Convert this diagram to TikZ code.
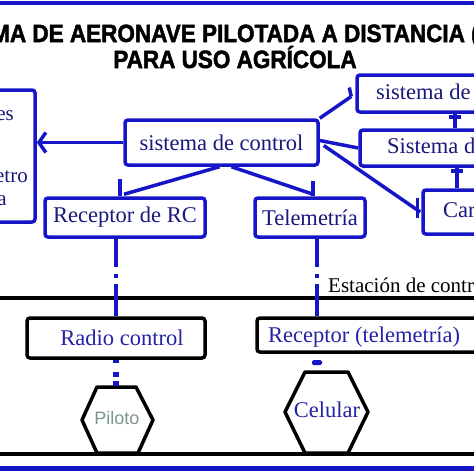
\documentclass[tikz,border=0pt]{standalone}
\usepackage{fontspec}
\usepackage{graphicx}
\setmainfont{Liberation Serif}
\newfontfamily\titlefont{Liberation Sans}
\newfontfamily\titleheavy{Liberation Sans Bold}[FakeBold=2]
\usetikzlibrary{arrows.meta,calc}
\definecolor{bbox}{RGB}{22,22,200}
\definecolor{btext}{RGB}{25,25,125}
\definecolor{rtext}{RGB}{35,35,165}
\definecolor{gtext}{RGB}{125,150,138}
\tikzset{
  bluebox/.style={draw=bbox, line width=3.5pt, rounded corners=3pt, inner sep=0pt, text=btext, font=\fontsize{22.5}{27}\selectfont},
  blackbox/.style={draw=black, line width=3.5pt, rounded corners=3pt, inner sep=0pt, text=rtext, font=\fontsize{22.5}{27}\selectfont},
  lbl/.style={inner sep=0pt, text=btext, font=\fontsize{22.5}{27}\selectfont},
  conn/.style={draw=bbox, line width=3.5pt},
  blk/.style={draw=black, line width=3.5pt},
  ttl/.style={inner sep=0pt, font=\titleheavy\fontsize{25}{30}\selectfont}
}
\begin{document}
\begin{tikzpicture}[x=1pt,y=-1pt]
\useasboundingbox (0,0) rectangle (474,474);
\clip (0,0) rectangle (474,474);
\fill[white] (0,0) rectangle (474,474);
% frame lines
\coordinate (tl) at (0,3); \coordinate (tr) at (474,3);
\draw[bbox, line width=4pt] (tl) -- (tr);
% title
\node[ttl, anchor=base west] (t1) at (-9,42) {\scalebox{0.9}[1]{MA DE AERONAVE PILOTADA A DISTANCIA (}};
\node[ttl, anchor=base] (t2) at (235,68) {\scalebox{0.9}[1]{PARA USO AGRÍCOLA}};
% upper boxes
\node[bluebox, minimum width=193pt, minimum height=45pt] (ctrl) at (221.5,142.5) {sistema de control};
\node[bluebox, minimum width=160pt, minimum height=39pt] (rc) at (125,217.5) {Receptor de RC};
\node[bluebox, minimum width=110pt, minimum height=39pt] (tel) at (310,217.5) {Telemetría};
\node[bluebox, minimum width=150pt, minimum height=37pt] (tr1) at (432,93.5) {};
\node[bluebox, minimum width=150pt, minimum height=36pt] (tr2) at (435,148) {};
\node[bluebox, minimum width=110pt, minimum height=44pt] (car) at (478,212) {};
\node[bluebox, minimum width=60pt, minimum height=132pt] (lft) at (5,156) {};
\node[lbl, anchor=base west] (tr1t) at (376,99) {sistema de};
\node[lbl, anchor=base west] (tr2t) at (387,153) {Sistema d};
\node[lbl, anchor=base west] (cart) at (443,217) {Car};
\node[lbl, anchor=base east, font=\fontsize{21}{25}\selectfont] (l1) at (14,120) {es};
\node[lbl, anchor=base east, font=\fontsize{21}{25}\selectfont] (l2) at (28,182) {etro};
\node[lbl, anchor=base east, font=\fontsize{21}{25}\selectfont] (l3) at (7,205) {a};
% connectors upper
\draw[conn, -{Straight Barb[length=7pt,width=20pt,line width=3.5pt]}] (ctrl.west) -- (ctrl.west -| lft.east);
\draw[conn] ($(ctrl.south)+(-2,0)$) -- ($(rc.north)+(-1,-2)$);
\draw[conn] ($(rc.north)+(-5,-17)$) -- ($(rc.north)+(-5,0)$);
\draw[conn] ($(ctrl.south)+(10,0)$) -- ($(tel.north)+(3,-2)$);
\draw[conn] ($(tel.north)+(3,-15)$) -- ($(tel.north)+(3,0)$);
\draw[conn] (ctrl.north east) -- ($(tr1.west)+(-4,3)$);
\draw[conn] ($(tr1.west)+(-6,-6)$) -- ($(tr1.west)+(-4,3)$);
\draw[conn] ($(ctrl.east)+(0,-2)$) -- (tr2.west);
\draw[conn] ($(ctrl.east)+(4,3)$) -- ($(car.west)+(-1,0)$);
\draw[conn] ($(car.west)+(-4,-14)$) -- ($(car.west)+(-4,6)$);
\coordinate (v1) at (455,0);
\coordinate (v2) at (457,0);
\draw[conn] (v1 |- tr1.south) -- (v1 |- tr2.north);
\draw[conn] ($(v1 |- tr1.south)+(-6,3)$) -- ++(12,0);
\draw[conn] (v2 |- tr2.south) -- (v2 |- car.north);
\draw[conn] ($(v2 |- tr2.south)+(-6,3)$) -- ++(12,0);
% ground station line
\coordinate (gl) at (0,298); \coordinate (gr) at (474,298);
\draw[blk] (gl) -- (gr);
\node[inner sep=0pt, anchor=base west, font=\fontsize{21}{25}\selectfont] (est) at (328,292) {Estación de contr};
% lower boxes
\node[blackbox, minimum width=178pt, minimum height=40pt] (radio) at (116,338) {\hspace*{12pt}Radio control};
\node[blackbox, minimum width=270pt, minimum height=34pt] (rtel) at (392,335) {};
\node[lbl, text=rtext, anchor=base west] (rtelt) at (268,342) {Receptor (telemetría)};
% dash-dot links
\draw[conn, dash pattern=on 28pt off 7pt on 4pt off 6pt on 60pt] (radio.north |- rc.south) -- (radio.north);
\coordinate (tx) at (317,0);
\draw[conn, dash pattern=on 28pt off 7pt on 4pt off 6pt on 60pt] (tx |- tel.south) -- (tx |- rtel.north);
% hexagons
\coordinate (ptop) at (116,387);
\draw[blk, line join=round] (97,387) -- (136,387) -- (153,420) -- (138,453) -- (97,453) -- (82,420) -- cycle;
\node[inner sep=0pt, text=gtext, font=\titlefont\fontsize{18}{21}\selectfont] (pil) at (117,418) {Piloto};
\draw[blk, line join=round] (305,372) -- (348,372) -- (368,412) -- (348,453) -- (305,453) -- (285,412) -- cycle;
\node[inner sep=0pt, text=rtext, font=\fontsize{22.5}{27}\selectfont] (cel) at (327,410) {Celular};
\draw[bbox, line width=6pt, dash pattern=on 3pt off 9pt on 5pt off 4pt on 5pt] (radio.south) -- (ptop);
\fill[bbox, rounded corners=1.5pt] (312,360) rectangle (322,365);
% bottom lines
\coordinate (bl) at (0,454); \coordinate (br) at (474,454);
\draw[blk] (bl) -- (br);
\coordinate (bbl) at (0,468); \coordinate (bbr) at (474,468);
\draw[bbox, line width=5pt] (bbl) -- (bbr);
\end{tikzpicture}
\end{document}
